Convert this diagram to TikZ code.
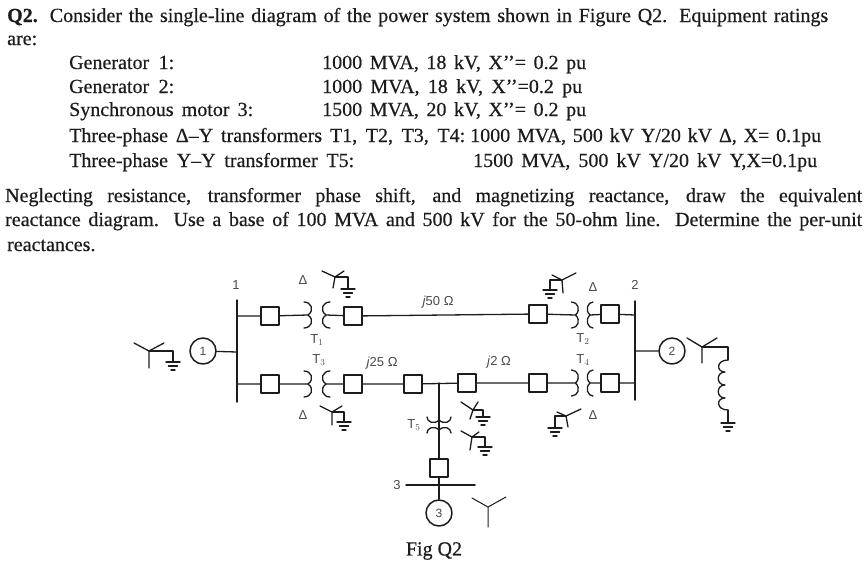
\documentclass[tikz,border=0pt]{standalone}
\usepackage{fontspec}
\setmainfont[FakeStretch=1.0,FakeBold=0.5,Ligatures=TeX]{Liberation Serif}
\setsansfont{Liberation Sans}
\definecolor{inkc}{HTML}{1C1C1C}
\definecolor{labelc}{HTML}{4A4A4A}
\tikzset{
  lead/.style={line width=1.3pt,draw=inkc},
  brk/.style={draw=inkc,line width=1.4pt,fill=white,minimum size=18pt,inner sep=0pt},
  mach/.style={circle,draw=inkc,line width=1.5pt,fill=white,minimum size=26pt,inner sep=0pt,font=\sffamily\fontsize{12}{12}\selectfont,text=labelc},
  tag/.style={font=\sffamily\fontsize{13}{13}\selectfont,text=labelc,inner sep=0pt},
  line/.style={anchor=base west,inner sep=0pt,text=inkc,font=\fontsize{20}{20}\selectfont},
  gnd/.pic={\draw[line width=1.4pt,draw=inkc] (-7,0)--(7,0) (-4.5,4)--(4.5,4) (-2,8)--(2,8);},
  xfmr/.pic={
    \draw[lead] (-13,-13) .. controls (-6,-13) and (-2,-5) .. (-9,0) .. controls (-2,5) and (-6,13) .. (-13,13);
    \draw[lead] (13,-13) .. controls (6,-13) and (2,-5) .. (9,0) .. controls (2,5) and (6,13) .. (13,13);
    \coordinate (-l) at (-9,0);
    \coordinate (-r) at (9,0);},
  xfmrn/.pic={
    \draw[lead] (-11.5,-13) .. controls (-5,-13) and (-2,-5) .. (-7.5,0) .. controls (-2,5) and (-5,13) .. (-11.5,13);
    \draw[lead] (10,-13) .. controls (5,-13) and (1.5,-5) .. (7,0) .. controls (1.5,5) and (5,13) .. (10,13);
    \coordinate (-l) at (-7.5,0);
    \coordinate (-r) at (7,0);},
  xfmrv/.pic={
    \draw[lead] (-12,-8) .. controls (-12,-3) and (-5,0) .. (0,-5) .. controls (5,0) and (12,-3) .. (12,-8);
    \draw[lead] (-12,8) .. controls (-12,3) and (-5,0) .. (0,5) .. controls (5,0) and (12,3) .. (12,8);}
}
\begin{document}
\begin{tikzpicture}[x=1pt,y=-1pt,line join=round,line cap=round]
\useasboundingbox (0,0) rectangle (867,568);
% question text
\foreach \lx/\ly/\lw/\ltxt [count=\li] in {
  7/22/821/{\textbf{Q2.} Consider the single-line diagram of the power system shown in Figure Q2. Equipment ratings},
  7/45/30/{are:},
  69/69/105/{Generator 1:},
  322/69/264/{1000 MVA, 18 kV, X’’= 0.2 pu},
  69/93/105/{Generator 2:},
  322/93/260/{1000 MVA, 18 kV, X’’=0.2 pu},
  69/116/184/{Synchronous motor 3:},
  322/116/264/{1500 MVA, 20 kV, X’’= 0.2 pu},
  69/142/396/{Three-phase Δ–Y transformers T1, T2, T3, T4:},
  470/142/351/{1000 MVA, 500 kV Y/20 kV Δ, X= 0.1pu},
  69/167/285/{Three-phase Y–Y transformer T5:},
  473/167/344/{1500 MVA, 500 kV Y/20 kV Y,X=0.1pu},
  5/202/857/{Neglecting resistance, transformer phase shift, and magnetizing reactance, draw the equivalent},
  5/226/857/{reactance diagram. Use a base of 100 MVA and 500 kV for the 50-ohm line. Determine the per-unit},
  7/251/91/{reactances.}}
  \node[line] (txt\li) at (\lx,\ly) {\makebox[\lw pt][s]{\ltxt}};
% buses
\coordinate (bus1a) at (237,300);
\coordinate (bus1b) at (237,402);
\coordinate (bus1t) at (237,316);
\coordinate (bus1m) at (237,352);
\coordinate (bus1u) at (237,384);
\coordinate (bus2a) at (635,301);
\coordinate (bus2b) at (635,400);
\coordinate (bus2t) at (635,315);
\coordinate (bus2m) at (635,351);
\coordinate (bus2u) at (635,383);
\coordinate (bus3a) at (406,485);
\coordinate (bus3b) at (475,485);
\coordinate (bus3c) at (439,485);
\coordinate (jct) at (439,383);
\draw[lead,line width=1.5pt] (bus1a)--(bus1b) (bus2a)--(bus2b) (bus3a)--(bus3b);
% machines
\node[mach] (g1) at (203,351) {1};
\node[mach] (g2) at (672,351) {2};
\node[mach] (m3) at (439,513) {3};
% transformers
\pic (t1) at (317,315) {xfmr};
\pic (t3) at (317,384) {xfmr};
\pic (t2) at (583,315) {xfmrn};
\pic (t4) at (583,383) {xfmrn};
\pic (t5) at (439,425) {xfmrv};
% breakers
\node[brk] (b1a) at (270,316) {};
\node[brk] (b1b) at (353,316) {};
\node[brk] (b2a) at (538,314) {};
\node[brk] (b2b) at (610,314) {};
\node[brk] (b3a) at (270,384) {};
\node[brk] (b3b) at (353,384) {};
\node[brk] (b5a) at (413,384) {};
\node[brk] (b5b) at (467,383) {};
\node[brk] (b4a) at (538,383) {};
\node[brk] (b4b) at (610,383) {};
\node[brk] (b5c) at (439,468) {};
% lines
\draw[lead] (g1)--(bus1m) (g2)--(bus2m);
\draw[lead] (bus1t)--(b1a) (b1a)--(t1-l) (t1-r)--(b1b) (b1b)--(b2a) (b2a)--(t2-l) (t2-r)--(b2b) (b2b)--(bus2t);
\draw[lead] (bus1u)--(b3a) (b3a)--(t3-l) (t3-r)--(b3b) (b3b)--(b5a) (b5a)--(b5b) (b5b)--(b4a) (b4a)--(t4-l) (t4-r)--(b4b) (b4b)--(bus2u);
\draw[lead] (jct)--(b5c) (b5c)--(bus3c) (bus3c)--(m3);
% grounded wyes
\foreach \wn/\nx/\ny/\ax/\ay/\bx/\by/\sx/\sy/\gx/\gy in {
  wg/149/351/-15/-8/15/-8/0/17/173/362,
  wa/335/277/-13/-6/9/-6/-2/11/348/289,
  wc/332/412/-12/-6/10/-6/0/13/344/422,
  wb/562/280/-10/-5/14/-7/1/13/550/290,
  wd/566/416/-9/-4/15/-7/2/11/555/428,
  we/473/410/-12/-8/5/-8/-3/9/483/417,
  wf/472/437/-11/-6/7/-5/-2/13/485/447}{
  \coordinate (\wn n) at (\nx,\ny);
  \coordinate (\wn g) at (\gx,\gy);
  \draw[lead] (\wn n)--++(\ax,\ay) (\wn n)--++(\bx,\by) (\wn n)--++(\sx,\sy);
  \draw[lead] (\wn n)-|(\wn g);
  \pic at (\wn g) {gnd};
}
% generator 2 neutral with reactor
\coordinate (w2n) at (702,347);
\coordinate (w2c) at (728,360);
\coordinate (w2d) at (728,410);
\coordinate (w2g) at (728,423);
\draw[lead] (w2n)--++(-15,-9) (w2n)--++(15,-9) (w2n)--++(0,16);
\draw[lead] (w2n)-|(w2c);
\draw[lead] (w2c) .. controls (716,360) and (716,372) .. (725,372)
  .. controls (716,372) and (716,385) .. (725,385)
  .. controls (716,385) and (716,398) .. (725,398)
  .. controls (716,398) and (716,410) .. (w2d);
\draw[lead] (w2d)--(w2g);
\pic at (w2g) {gnd};
% motor wye
\coordinate (w3n) at (488,507);
\draw[lead,line width=1pt] (w3n)--++(-16,-9) (w3n)--++(18,-10) (w3n)--++(0,20);
% labels
\node[tag] (lbus1) at (236,285) {1};
\node[tag] (lbus2) at (635,285) {2};
\node[tag] (lbus3) at (397,485) {3};
\node[tag] (dl1) at (303,280) {Δ};
\node[tag] (dl3) at (303,415) {Δ};
\node[tag] (dl2) at (593,287) {Δ};
\node[tag] (dl4) at (593,415) {Δ};
\node[tag] (lt1) at (317,340) {T$_{1}$};
\node[tag] (lt3) at (319,360) {T$_{3}$};
\node[tag] (lt2) at (583,339) {T$_{2}$};
\node[tag] (lt4) at (583,360) {T$_{4}$};
\node[tag] (lt5) at (414,425) {T$_{5}$};
\node[tag] (lx1) at (438,302) {\emph{j}50 Ω};
\node[tag] (lx2) at (382,363) {\emph{j}25 Ω};
\node[tag] (lx3) at (499,362) {\emph{j}2 Ω};
\node[anchor=center,inner sep=0pt,text=inkc,font=\fontsize{20}{20}\selectfont] (figlbl) at (434,551) {Fig Q2};
\end{tikzpicture}
\end{document}
